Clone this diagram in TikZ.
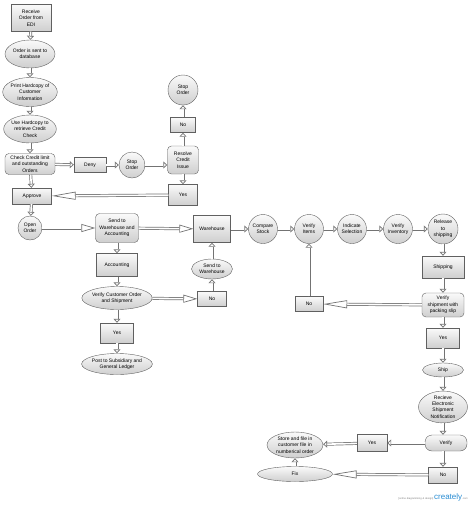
\documentclass[tikz,border=0pt]{standalone}
\usepackage{fontspec}
\setmainfont{Liberation Sans}
\usetikzlibrary{shapes.geometric, arrows.meta}

% Define colors
\colorlet{edgecolor}{gray!75!black}
\colorlet{linecolor}{gray!90!black}
\colorlet{shadetop}{gray!4}
\colorlet{shadebottom}{gray!38}
\definecolor{brandblue}{RGB}{40,140,210}

\tikzset{
    base/.style={draw=edgecolor, line width=0.4pt, top color=shadetop, bottom color=shadebottom,
        align=center, inner sep=0pt, font=\fontsize{5}{6.3}\selectfont},
    box/.style={base, rectangle},
    rbox/.style={base, rectangle, rounded corners=4pt},
    oval/.style={base, ellipse},
    circ/.style={base, circle},
    flow/.style={draw=linecolor, double=white, double distance=1.6pt, line width=0.7pt,
        -{Triangle[open, length=4pt, width=7pt]}},
    longflow/.style={flow, -{Triangle[open, length=14pt, width=8pt]}},
    longerflow/.style={flow, -{Triangle[open, length=24pt, width=8pt]}},
}

\begin{document}
\begin{tikzpicture}[x=1pt, y=-1pt]

% Define the picture size
\def\picw{474}
\def\pich{507}
\useasboundingbox (0,0) rectangle (\picw,\pich);

% Order intake column
\node[box, minimum width=40pt, minimum height=27pt] (receive) at (31,18) {Receive\\Order from\\EDI};
\node[oval, minimum width=50pt, minimum height=28pt] (sent) at (30,54) {Order is sent to\\database};
\node[oval, minimum width=50pt, minimum height=29pt] (print) at (30,92) {Print Hardcopy of\\Customer\\Information};
\node[oval, minimum width=50pt, minimum height=28pt] (use) at (30,129) {Use Hardcopy to\\retrieve Credit\\Check};
\node[rbox, minimum width=50pt, minimum height=21pt] (check) at (30,164) {Check Credit limit\\and outstanding\\Orders};
\node[box, minimum width=39pt, minimum height=16pt] (approve) at (32,196) {Approve};
\node[circ, minimum size=24pt] (open) at (30,228) {Open\\Order};

% Credit problems
\node[box, minimum width=32pt, minimum height=15pt] (deny) at (90,165) {Deny};
\node[circ, minimum size=26pt] (stopone) at (132,165) {Stop\\Order};
\node[rbox, minimum width=31pt, minimum height=28pt] (resolve) at (183,160) {Resolve\\Credit\\Issue};
\node[box, minimum width=25pt, minimum height=15pt] (noone) at (183,125) {No};
\node[circ, minimum size=30pt] (stoptwo) at (183,90) {Stop\\Order};
\node[box, minimum width=29pt, minimum height=21pt] (yesone) at (183,195) {Yes};

% Accounting branch
\node[rbox, minimum width=43pt, minimum height=29pt] (sendwa) at (117,228) {Send to\\Warehouse and\\Accounting};
\node[box, minimum width=41pt, minimum height=23pt] (accounting) at (117,265) {Accounting};
\node[oval, minimum width=61pt, minimum height=23pt] (verifyco) at (117,298) {Verify Customer Order\\and Shipment};
\node[box, minimum width=33pt, minimum height=20pt] (yestwo) at (117,333) {Yes};
\node[oval, minimum width=70pt, minimum height=21pt] (post) at (117,364) {Post to Subsidiary and\\General Ledger};
\node[box, minimum width=29pt, minimum height=15pt] (notwo) at (212,299) {No};
\node[oval, minimum width=41pt, minimum height=20pt] (sendw) at (212,269) {Send to\\Warehouse};

% Warehouse row
\node[box, minimum width=37pt, minimum height=27pt] (warehouse) at (212,229) {Warehouse};
\node[circ, minimum size=29pt] (compare) at (263,229) {Compare\\Stock};
\node[circ, minimum size=29pt] (items) at (309,229) {Verify\\Items};
\node[circ, minimum size=29pt] (select) at (352,229) {Indicate\\Selection};
\node[circ, minimum size=29pt] (inventory) at (398,229) {Verify\\Inventory};
\node[circ, minimum size=30pt] (release) at (443,229) {Release\\to\\shipping};
\node[box, minimum width=28pt, minimum height=15pt] (nothree) at (309,304) {No};

% Shipping column
\node[box, minimum width=42pt, minimum height=22pt] (shipping) at (443,267) {Shipping};
\node[rbox, minimum width=42pt, minimum height=24pt] (vship) at (443,305) {Verify\\shipment with\\packing slip};
\node[box, minimum width=33pt, minimum height=20pt] (yesthree) at (443,338) {Yes};
\node[oval, minimum width=41pt, minimum height=14pt] (ship) at (443,370) {Ship};
\node[oval, minimum width=49pt, minimum height=31pt] (notify) at (443,407) {Recieve\\Electronic\\Shipment\\Notification};
\node[rbox, rounded corners=7pt, minimum width=42pt, minimum height=16pt] (verify) at (446,443) {Verify};
\node[box, minimum width=30pt, minimum height=17pt] (yesfour) at (372,443) {Yes};
\node[box, minimum width=29pt, minimum height=16pt] (nofour) at (443,475) {No};
\node[oval, minimum width=56pt, minimum height=26pt] (store) at (295,445) {Store and file in\\customer file in\\numberical order};
\node[oval, minimum width=75pt, minimum height=15pt] (fix) at (295,474) {Fix};

% Watermark
\node[anchor=east, inner sep=0pt, font=\fontsize{2.6}{3}\selectfont, text=gray] (mark) at (468,497)
    {[online diagramming \& design]\ {\fontsize{8}{8}\selectfont\color{brandblue}creately}.com};

% Draw the connectors
\draw[flow] (receive) -- (sent);
\draw[flow] (sent) -- (print);
\draw[flow] (print) -- (use);
\draw[flow] (use) -- (check);
\draw[flow] (check) -- (deny);
\draw[flow] (deny) -- (stopone);
\draw[flow] (stopone) -- (stopone -| resolve.west);
\draw[flow] (resolve) -- (noone);
\draw[flow] (noone) -- (stoptwo);
\draw[flow] (resolve) -- (yesone);
\draw[longerflow] (yesone) -- (approve);
\draw[flow] (check) -- (approve);
\draw[flow] (approve) -- (open);
\draw[longflow] (open) -- (sendwa);
\draw[longflow] (sendwa) -- (warehouse);
\draw[flow] (sendwa) -- (accounting);
\draw[flow] (accounting) -- (verifyco);
\draw[longflow] (verifyco) -- (notwo);
\draw[flow] (notwo) -- (sendw);
\draw[flow] (sendw) -- (warehouse);
\draw[flow] (verifyco) -- (yestwo);
\draw[flow] (yestwo) -- (post);
\draw[flow] (warehouse) -- (compare);
\draw[flow] (compare) -- (items);
\draw[flow] (items) -- (select);
\draw[flow] (select) -- (inventory);
\draw[flow] (inventory) -- (release);
\draw[flow] (release) -- (shipping);
\draw[flow] (shipping) -- (vship);
\draw[longerflow] (vship) -- (nothree);
\draw[flow] (nothree) -- (items);
\draw[flow] (vship) -- (yesthree);
\draw[flow] (yesthree) -- (ship);
\draw[flow] (ship) -- (notify);
\draw[flow] (notify) -- (verify.north -| notify.south);
\draw[flow] (verify) -- (yesfour);
\draw[flow] (yesfour) -- (store);
\draw[flow] (verify.south -| nofour.north) -- (nofour);
\draw[longerflow] (nofour) -- (fix);
\draw[flow] (fix) -- (store);

\end{tikzpicture}
\end{document}
